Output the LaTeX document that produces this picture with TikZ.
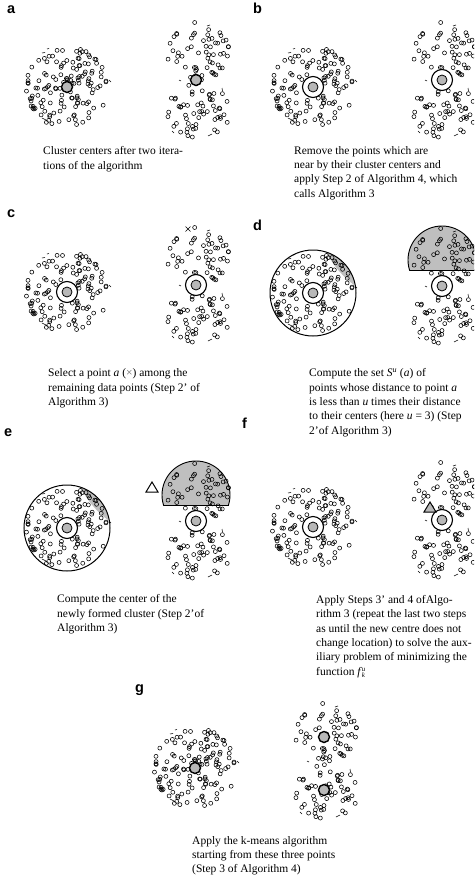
\documentclass[tikz,border=0pt]{standalone}
\usepackage{fontspec}
\setmainfont{Liberation Serif}
\newfontfamily\labelfont{Liberation Sans}

\tikzset{
  datapt/.style={line width=0.55pt},
  centerdot/.style={draw, fill=black!28, line width=0.8pt},
  bigdot/.style={draw, fill=black!28, line width=1.4pt},
  centerring/.style={draw, line width=1.1pt},
  regionfill/.style={fill=black!25},
  caption/.style={anchor=base west, align=left, inner sep=0pt, font=\fontsize{11.5}{14.4}\selectfont},
  panellabel/.style={anchor=base west, inner sep=0pt, font=\labelfont\bfseries\fontsize{14.5}{14.5}\selectfont},
}

% left cluster, points closer than #1 to its centre are left out
\newcommand\leftpoints[1]{%
  \pgfmathsetseed{731}%
  \foreach \k in {1,...,135}{%
    \pgfmathsetmacro\rr{41*sqrt(rnd)}%
    \pgfmathsetmacro\aa{360*rnd}%
    \pgfmathsetmacro\px{67+\rr*cos(\aa)}%
    \pgfmathsetmacro\py{87+\rr*sin(\aa)}%
    \ifdim\rr pt>#1pt \draw[datapt] (\px,\py) circle[radius=2];\fi
  }%
  \draw[datapt] (42,53) -- (45,52.5) (47,49) -- (49,48.5) (42,118) -- (46,120) (109,80) -- (111,82);
}
% right cluster (two groups), same rule
\newcommand\rightpoints[1]{%
  \pgfmathsetseed{2718}%
  \foreach \k in {1,...,118}{%
    \pgfmathsetmacro\rr{sqrt(rnd)}%
    \pgfmathsetmacro\aa{360*rnd}%
    \ifnum\k<61
      \pgfmathsetmacro\px{198+32*\rr*cos(\aa)}%
      \pgfmathsetmacro\py{52+30*\rr*sin(\aa)}%
    \else
      \pgfmathsetmacro\px{199+32*\rr*cos(\aa)}%
      \pgfmathsetmacro\py{110+28*\rr*sin(\aa)}%
    \fi
    \pgfmathsetmacro\dd{veclen(\px-196,\py-80)}%
    \ifdim\dd pt>#1pt \draw[datapt] (\px,\py) circle[radius=2];\fi
  }%
  \draw[datapt] (179,80) -- (181,81) (207,26) -- (210,25) (172,131) -- (174,133) (208,136) -- (212,134) (222,88) -- (222.5,91);
}

\begin{document}
\begin{tikzpicture}[x=1pt,y=-1pt]
\useasboundingbox (0,0) rectangle (474,889);
\clip (0,0) rectangle (474,889);

% a
\node[panellabel] (laba) at (7,13) {a};
\leftpoints{0}
\rightpoints{0}
\draw[bigdot] (67,87) circle[radius=5.5];
\draw[bigdot] (196,80) circle[radius=5.5];
\node[caption] (capa) at (43,169.1) {Cluster centers after two itera-\\tions of the algorithm};

% b
\node[panellabel] (labb) at (253,13) {b};
\begin{scope}[shift={(246,0)}]
\leftpoints{12}
\rightpoints{12}
\draw[centerring] (67,87) circle[radius=10.5];
\draw[centerdot] (67,87) circle[radius=5];
\draw[centerring] (196,80) circle[radius=10.5];
\draw[centerdot] (196,80) circle[radius=5];
\end{scope}
\node[caption] (capb) at (294,197.2) {Remove the points which are\\near by their cluster centers and\\apply Step 2 of Algorithm 4, which\\calls Algorithm 3};

% c
\node[panellabel] (labc) at (7,217) {c};
\begin{scope}[shift={(0,205)}]
\leftpoints{12}
\rightpoints{12}
\draw[centerring] (67,87) circle[radius=10.5];
\draw[centerdot] (67,87) circle[radius=5];
\draw[centerring] (196,80) circle[radius=10.5];
\draw[centerdot] (196,80) circle[radius=5];
\draw[datapt] (185.5,21.5) -- (190.5,26.5) (185.5,26.5) -- (190.5,21.5);
\end{scope}
\node[caption] (capc) at (48,405.5) {Select a point \textit{a} ({\color{black!60}×}) among the\\remaining data points (Step 2' of\\Algorithm 3)};

% d
\node[panellabel] (labd) at (253,230) {d};
\begin{scope}[shift={(246,206)}]
\begin{scope}
\clip (67,87) circle[radius=43];
\fill[regionfill] (165,3) circle[radius=95];
\end{scope}
\draw[line width=1pt] (67,87) circle[radius=43];
\begin{scope}
\clip (150,0) rectangle (250,64);
\fill[regionfill] (196,54) circle[radius=34];
\draw[line width=0.9pt] (196,54) circle[radius=34];
\end{scope}
\draw[line width=0.9pt] (163.5,64) -- (228.5,64);
\leftpoints{12}
\rightpoints{12}
\draw[centerring] (67,87) circle[radius=10.5];
\draw[centerdot] (67,87) circle[radius=5];
\draw[centerring] (196,80) circle[radius=10.5];
\draw[centerdot] (196,80) circle[radius=5];
\end{scope}
\node[caption] (capd) at (309,434.3) {Compute the set \textit{S}\textsuperscript{\textit{u}} (\textit{a}) of\\points whose distance to point \textit{a}\\is less than \textit{u} times their distance\\to their centers (here \textit{u} = 3) (Step\\2’of Algorithm 3)};

% e
\node[panellabel] (labe) at (4,436) {e};
\begin{scope}[shift={(0,441)}]
\begin{scope}
\clip (67,87) circle[radius=43];
\fill[regionfill] (165,3) circle[radius=95];
\end{scope}
\draw[line width=1pt] (67,87) circle[radius=43];
\begin{scope}
\clip (150,0) rectangle (250,64);
\fill[regionfill] (196,54) circle[radius=34];
\draw[line width=0.9pt] (196,54) circle[radius=34];
\end{scope}
\draw[line width=0.9pt] (163.5,64) -- (228.5,64);
\leftpoints{12}
\rightpoints{12}
\draw[centerring] (67,87) circle[radius=10.5];
\draw[centerdot] (67,87) circle[radius=5];
\draw[centerring] (196,80) circle[radius=10.5];
\draw[centerdot] (196,80) circle[radius=5];
\draw[line width=1pt, fill=white] (152,41) -- (158,51) -- (146,51) -- cycle;
\end{scope}
\node[caption] (cape) at (57,631.5) {Compute the center of the\\newly formed cluster (Step 2’of\\Algorithm 3)};

% f
\node[panellabel] (labf) at (242,428) {f};
\begin{scope}[shift={(246,440)}]
\leftpoints{12}
\rightpoints{12}
\draw[centerring] (67,87) circle[radius=10.5];
\draw[centerdot] (67,87) circle[radius=5];
\draw[centerring] (196,80) circle[radius=10.5];
\draw[centerdot] (196,80) circle[radius=5];
\draw[line width=1pt, fill=black!28] (184,62) -- (190,72) -- (178,72) -- cycle;
\end{scope}
\node[caption] (capf) at (316,675.3) {Apply Steps 3’ and 4 ofAlgo-\\rithm 3 (repeat the last two steps\\as until the new centre does not\\change location) to solve the aux-\\iliary problem of minimizing the\\function \textit{f}\rlap{\raisebox{-0.45ex}{\scriptsize\textit{k}}}\raisebox{0.75ex}{\scriptsize\textit{u}}};

% g
\node[panellabel] (labg) at (135,692) {g};
\begin{scope}[shift={(128,681)}]
\leftpoints{0}
\rightpoints{0}
\draw[bigdot] (67,87) circle[radius=5.5];
\draw[bigdot] (196,56) circle[radius=5.5];
\draw[bigdot] (196,109) circle[radius=5.5];
\end{scope}
\node[caption] (capg) at (192,872.8) {Apply the k-means algorithm\\starting from these three points\\(Step 3 of Algorithm 4)};
\end{tikzpicture}
\end{document}
